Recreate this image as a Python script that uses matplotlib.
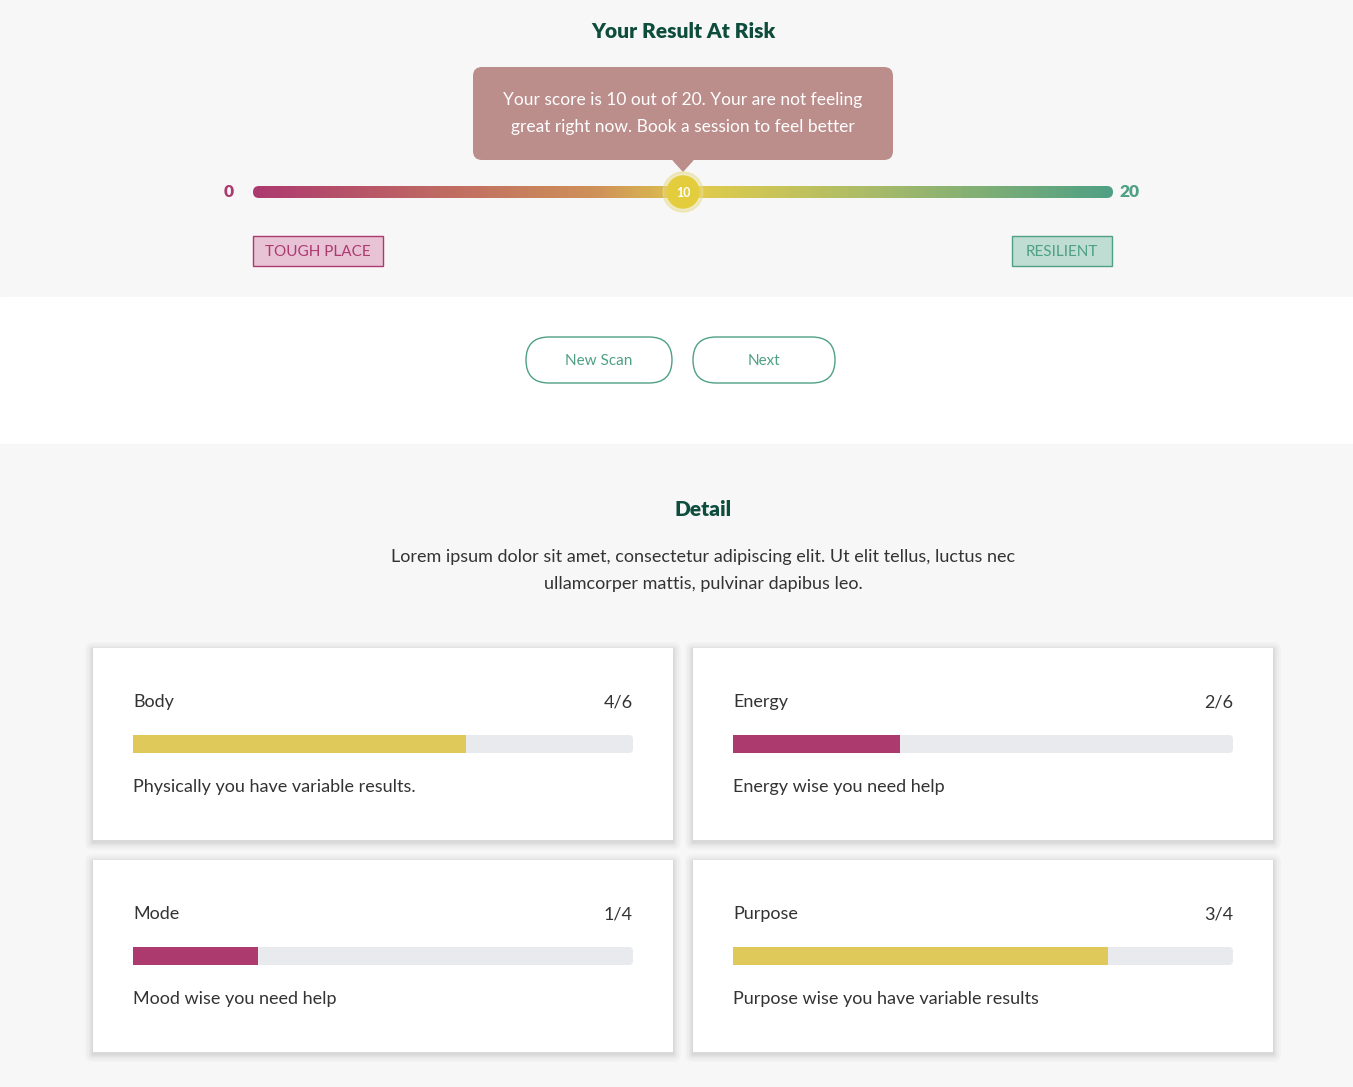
import numpy as np
import matplotlib.pyplot as plt
from matplotlib.patches import FancyBboxPatch, Rectangle, Polygon, Circle
from matplotlib.colors import LinearSegmentedColormap

# overall score
score = 10
score_max = 20
gauge_labels = ["TOUGH PLACE", "RESILIENT"]

# detail cards
card_names = ["Body", "Energy", "Mode", "Purpose"]
card_scores = [4, 2, 1, 3]
card_totals = [6, 6, 4, 4]
card_messages = ["Physically you have variable results.",
                 "Energy wise you need help",
                 "Mood wise you need help",
                 "Purpose wise you have variable results"]

MAGENTA = "#ad3a6f"
YELLOW = "#dfc95a"
GREEN = "#4fa085"
DARK = "#0e4d3c"
TEXT = "#333333"
FONT = "Lato"

W, H = 1353, 1087
fig = plt.figure(figsize=(W / 100, H / 100), dpi=100)
ax = fig.add_axes([0, 0, 1, 1])
ax.set_xlim(0, W)
ax.set_ylim(H, 0)
ax.axis("off")

# page background bands
ax.add_patch(Rectangle((0, 0), W, 297, color="#f7f7f7", zorder=0))
ax.add_patch(Rectangle((0, 297), W, 147, color="white", zorder=0))
ax.add_patch(Rectangle((0, 444), W, H - 444, color="#f7f7f7", zorder=0))

ax.text(683, 32, "Your Result At Risk", ha="center", va="center", fontsize=15,
        fontweight="heavy", color=DARK, family=FONT)

# gauge
gx0, gx1, gy = 253, 1113, 192
cmap = LinearSegmentedColormap.from_list("risk", [
    (0, "#ad3a6f"), (0.4, "#cf9259"), (0.52, "#e0cb4c"), (0.7, "#b0bd66"), (1, GREEN)])
grad = np.linspace(0, 1, 512).reshape(1, -1)
im = ax.imshow(grad, cmap=cmap, extent=(gx0, gx1, gy + 6, gy - 6), aspect="auto", zorder=2)
clip = FancyBboxPatch((gx0, gy - 6), gx1 - gx0, 12, boxstyle="round,pad=0,rounding_size=6",
                      transform=ax.transData, facecolor="none", edgecolor="none")
ax.add_patch(clip)
im.set_clip_path(clip)
ax.set_xlim(0, W)
ax.set_ylim(H, 0)

kx = gx0 + (gx1 - gx0) * score / score_max
ax.add_patch(Circle((kx, gy), 20, color="#e9dc8a", alpha=0.5, zorder=3))
ax.add_patch(Circle((kx, gy), 16, color="#e3cd3c", zorder=4))
ax.text(kx, gy + 1, str(score), ha="center", va="center", fontsize=9, fontweight="bold",
        color="white", family=FONT, zorder=5)
ax.text(229, gy, "0", ha="center", va="center", fontsize=12.5, fontweight="heavy",
        color=MAGENTA, family=FONT)
ax.text(1130, gy, str(score_max), ha="center", va="center", fontsize=12.5, fontweight="heavy",
        color=GREEN, family=FONT)

# tooltip
ax.add_patch(FancyBboxPatch((473, 67), 420, 93, boxstyle="round,pad=0,rounding_size=9",
                            facecolor="#bb8d8b", edgecolor="none", zorder=3))
ax.add_patch(Polygon([(kx - 10, 160), (kx + 10, 160), (kx, 171)], color="#bb8d8b", zorder=3))
ax.text(683, 100, f"Your score is {score} out of {score_max}. Your are not feeling",
        ha="center", va="center", fontsize=12.5, color="white", family=FONT, zorder=4)
ax.text(683, 127, "great right now. Book a session to feel better",
        ha="center", va="center", fontsize=12.5, color="white", family=FONT, zorder=4)

# range labels
for (x0, w), lab, fc, ec in [((253, 130), gauge_labels[0], "#e8c3d5", MAGENTA),
                              ((1012, 100), gauge_labels[1], "#bfddd3", GREEN)]:
    ax.add_patch(Rectangle((x0, 236), w, 30, facecolor=fc, edgecolor=ec, lw=1, zorder=2))
    ax.text(x0 + w / 2, 252, lab, ha="center", va="center", fontsize=11, color=ec, family=FONT)

# buttons
for (x0, w), lab in [((526, 146), "New Scan"), ((693, 142), "Next")]:
    ax.add_patch(FancyBboxPatch((x0, 337), w, 46, boxstyle="round,pad=0,rounding_size=23",
                                facecolor="white", edgecolor=GREEN, lw=1))
    ax.text(x0 + w / 2, 361, lab, ha="center", va="center", fontsize=11, color=GREEN, family=FONT)

# detail header
ax.text(703, 509, "Detail", ha="center", va="center", fontsize=15, fontweight="heavy",
        color=DARK, family=FONT)
ax.text(703, 557, "Lorem ipsum dolor sit amet, consectetur adipiscing elit. Ut elit tellus, luctus nec",
        ha="center", va="center", fontsize=13, color=TEXT, family=FONT)
ax.text(703, 584, "ullamcorper mattis, pulvinar dapibus leo.",
        ha="center", va="center", fontsize=13, color=TEXT, family=FONT)

# cards
card_x = [93, 693, 93, 693]
card_y = [648, 648, 860, 860]
cw, ch, bw = 580, 192, 500
for i in range(len(card_names)):
    x0, y0 = card_x[i], card_y[i]
    for s in [8, 6, 4, 3, 2, 1]:
        ax.add_patch(FancyBboxPatch((x0 - s, y0 - s + 2), cw + 2 * s, ch + 2 * s,
                                    boxstyle=f"round,pad=0,rounding_size={s}",
                                    facecolor="black", alpha=0.018, edgecolor="none", zorder=1))
    ax.add_patch(Rectangle((x0, y0), cw, ch, facecolor="white", edgecolor="none", zorder=2))
    ax.text(x0 + 40, y0 + 54, card_names[i], ha="left", va="center", fontsize=13,
            color=TEXT, family=FONT, zorder=3)
    ax.text(x0 + 540, y0 + 54, f"{card_scores[i]}/{card_totals[i]}", ha="right", va="center",
            fontsize=13, color=TEXT, family=FONT, zorder=3)
    frac = card_scores[i] / card_totals[i]
    color = YELLOW if frac >= 0.5 else MAGENTA
    by = y0 + 96
    ax.add_patch(FancyBboxPatch((x0 + 40, by - 9), bw, 18, boxstyle="round,pad=0,rounding_size=4",
                                facecolor="#e8eaed", edgecolor="none", zorder=3))
    ax.barh(by, bw * frac, height=18, left=x0 + 40, color=color, zorder=4)
    ax.text(x0 + 40, y0 + 139, card_messages[i], ha="left", va="center", fontsize=13,
            color=TEXT, family=FONT, zorder=3)

ax.set_xlim(0, W)
ax.set_ylim(H, 0)
fig.savefig("out.png", dpi=100)
